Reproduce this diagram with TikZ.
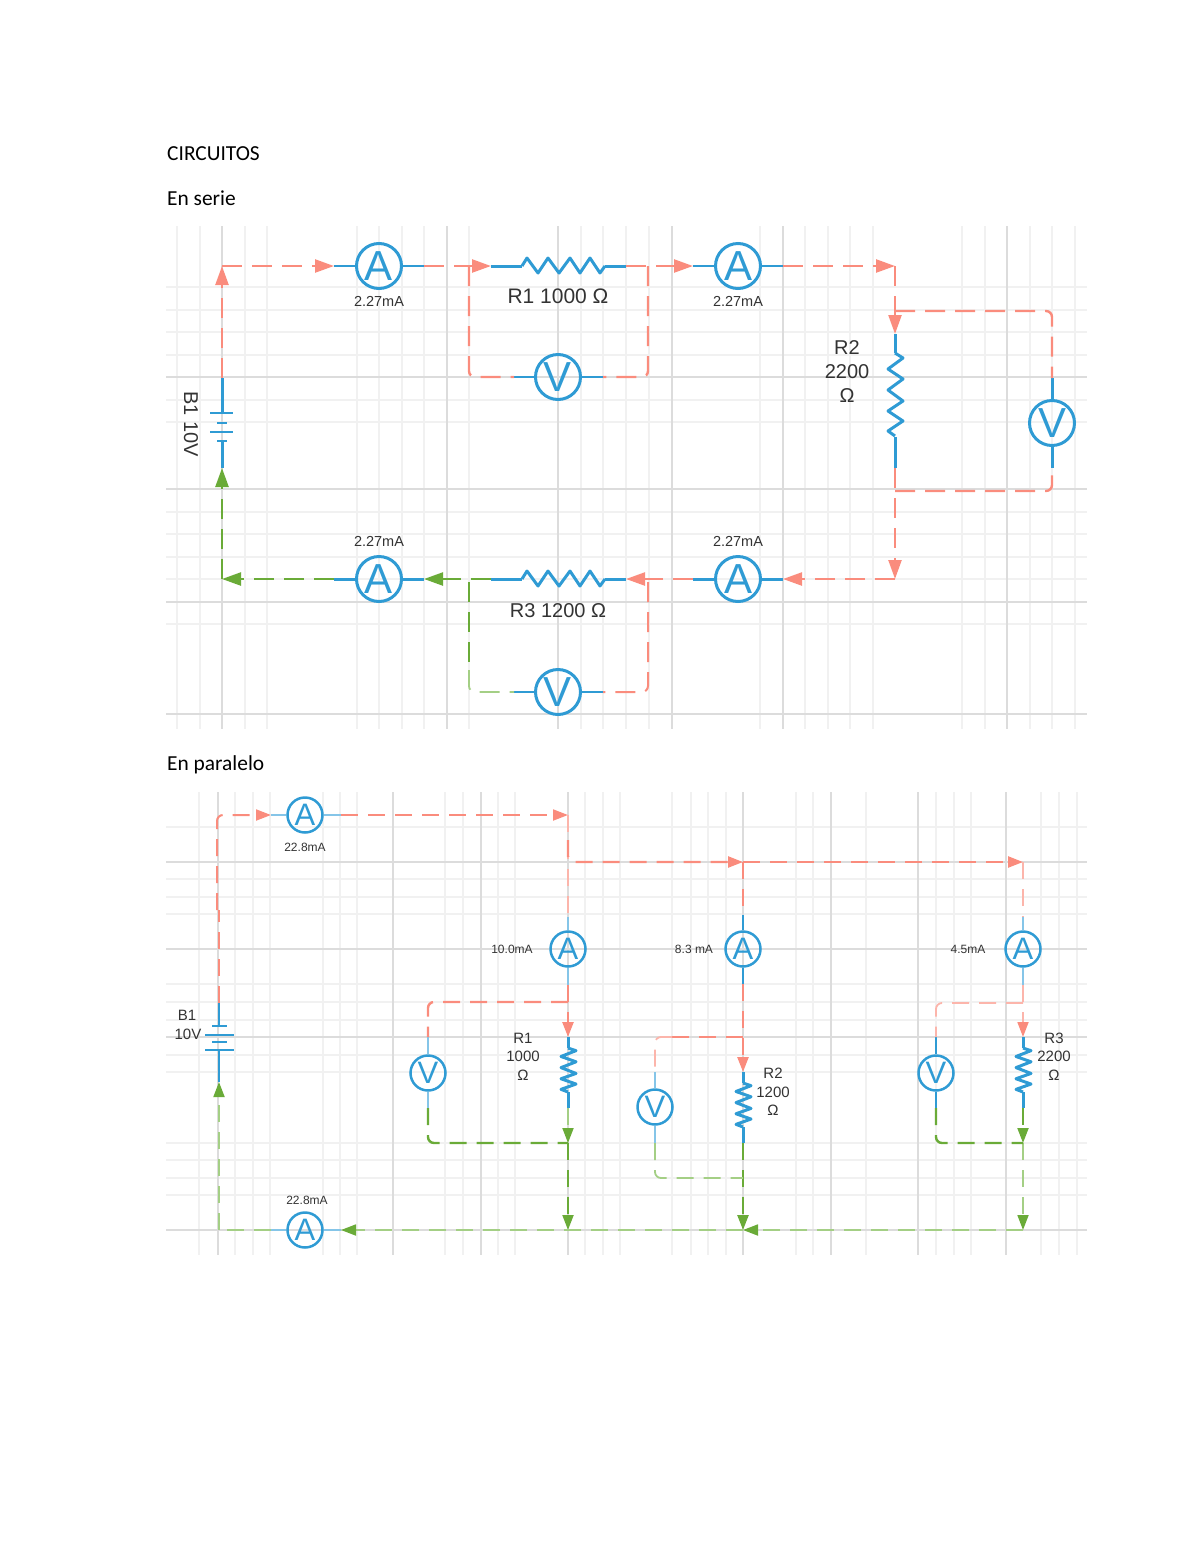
\documentclass[tikz,border=0pt]{standalone}
\usepackage{fontspec}
\setmainfont{Liberation Sans}
\newfontfamily\bodyfont{Carlito}
\usetikzlibrary{arrows.meta}

\definecolor{ebl}{HTML}{2F9BD4}
\definecolor{eblt}{HTML}{85C5E8}
\definecolor{esa}{HTML}{FA8C7D}
\definecolor{esalt}{HTML}{FCB5AB}
\definecolor{egr}{HTML}{6AAB38}
\definecolor{egrlt}{HTML}{A4CF85}
\definecolor{gridlt}{HTML}{F1F1F1}
\definecolor{griddk}{HTML}{DCDCDC}

\def\dashon{20pt}

\tikzset{
  meterbig/.style={circle,draw=ebl,line width=3pt,minimum size=45pt,inner sep=0pt,text=ebl,font=\fontsize{42}{42}\selectfont},
  metersmall/.style={circle,draw=ebl,line width=2.5pt,minimum size=35pt,inner sep=0pt,text=ebl,font=\fontsize{31}{31}\selectfont},
  lead/.style={ebl,line width=3pt},
  leadlt/.style={eblt,line width=2.2pt},
  plate/.style={ebl,line width=2.5pt},
  hot/.style={esa,line width=2.4pt,dash pattern=on \dashon off 10pt,rounded corners=6pt},
  hotlt/.style={esalt,line width=1.8pt,dash pattern=on \dashon off 10pt,rounded corners=6pt},
  cold/.style={egr,line width=2.4pt,dash pattern=on \dashon off 10pt,rounded corners=6pt},
  coldlt/.style={egrlt,line width=1.8pt,dash pattern=on \dashon off 10pt,rounded corners=6pt},
  tiphot/.style={-{Triangle[length=19pt,width=13pt,fill=esa,color=esa]}},
  tipcold/.style={-{Triangle[length=19pt,width=13pt,fill=egr,color=egr]}},
  tiphots/.style={-{Triangle[length=15pt,width=11pt,fill=esa,color=esa]}},
  tipcolds/.style={-{Triangle[length=15pt,width=11pt,fill=egr,color=egr]}},
  zigzag/.pic={\draw[lead,line join=round] (0,0) -- (5,-8) -- (16,7) -- (26,-8) -- (37,7) -- (48,-8) -- (58,7) -- (68,-8) -- (78,7) -- (83,0);},
  body/.style={font=\bodyfont\fontsize{21.4}{21.4}\selectfont,anchor=base west,inner sep=0pt},
  ohms/.style={font=\fontsize{20}{20}\selectfont,text=black!80,inner sep=0pt},
  ohmssmall/.style={font=\fontsize{15}{15}\selectfont,text=black!80,inner sep=0pt},
  amps/.style={font=\fontsize{14.5}{14.5}\selectfont,text=black!80,inner sep=0pt},
  ampssmall/.style={font=\fontsize{12}{12}\selectfont,text=black!80,inner sep=0pt}
}

\begin{document}
\begin{tikzpicture}[x=1pt,y=-1pt]
    \useasboundingbox (0,0) rectangle (1200,1553);

    % Headings
    \node[body] (title) at (167,160) {CIRCUITOS};
    \node[body] (serie) at (167,205) {En serie};
    \node[body] (paralelo) at (167,770) {En paralelo};

    % Grid, series
    \foreach \x in {177,200,245,267,357,379,402,424,469,581,603,626,649,760,805,828,850,873,962,985,1030,1052,1075}
        \draw[gridlt,line width=1.4pt] (\x,226) -- (\x,729);
    \foreach \y in {287,310,332,355,400,422,512,534,557,579,624}
        \draw[gridlt,line width=1.4pt] (166,\y) -- (1087,\y);
    \foreach \x in {222,447,558,672,783,1007}
        \draw[griddk,line width=1.4pt] (\x,226) -- (\x,729);
    \foreach \y in {377,489,602,714}
        \draw[griddk,line width=1.4pt] (166,\y) -- (1087,\y);

    % Grid, parallel
    \foreach \x in {199,235,253,270,323,340,357,445,463,498,515,585,603,620,672,691,708,726,796,813,866,936,954,971,1041,1059,1077}
        \draw[gridlt,line width=1.4pt] (\x,792) -- (\x,1255);
    \foreach \y in {827,879,897,914,984,1002,1020,1055,1072,1143,1160,1178,1195}
        \draw[gridlt,line width=1.4pt] (166,\y) -- (1087,\y);
    \foreach \x in {218,393,481,568,743,831,918,1006}
        \draw[griddk,line width=1.4pt] (\x,792) -- (\x,1255);
    \foreach \y in {862,949,1037,1230}
        \draw[griddk,line width=1.4pt] (166,\y) -- (1087,\y);

    % Series meters
    \node[meterbig] (AmA) at (379,266) {A};
    \node[meterbig] (AmB) at (738,266) {A};
    \node[meterbig] (AmC) at (738,579) {A};
    \node[meterbig] (AmD) at (379,579) {A};
    \node[meterbig] (VmA) at (558,377) {V};
    \node[meterbig] (VmB) at (1052,423) {V};
    \node[meterbig] (VmC) at (558,692) {V};

    % Series corners and lead ends
    \coordinate (BatT) at (222,378);
    \coordinate (BatB) at (222,468);
    \coordinate (TL) at (222,266);
    \coordinate (TR) at (895,266);
    \coordinate (BL) at (222,579);
    \coordinate (BR) at (895,579);
    \coordinate (AmAw) at (334,266);
    \coordinate (AmAe) at (424,266);
    \coordinate (AmBw) at (693,266);
    \coordinate (AmBe) at (783,266);
    \coordinate (AmCw) at (693,579);
    \coordinate (AmCe) at (783,579);
    \coordinate (AmDw) at (334,579);
    \coordinate (AmDe) at (424,579);
    \coordinate (RaW) at (491,266);
    \coordinate (RaE) at (626,266);
    \coordinate (RcW) at (491,579);
    \coordinate (RcE) at (626,579);
    \coordinate (RbT) at (895,334);
    \coordinate (RbB) at (895,468);
    \coordinate (VmAw) at (514,377);
    \coordinate (VmAe) at (603,377);
    \coordinate (VmBt) at (1052,378);
    \coordinate (VmBb) at (1052,468);
    \coordinate (VmCw) at (514,692);
    \coordinate (VmCe) at (603,692);

    % Series blue leads
    \draw[lead,line width=2.2pt] (AmAw) -- (AmA);
    \draw[lead,line width=2.2pt] (AmA) -- (AmAe);
    \draw[lead,line width=2.2pt] (AmBw) -- (AmB);
    \draw[lead,line width=2.2pt] (AmB) -- (AmBe);
    \draw[lead] (AmCw) -- (AmC);
    \draw[lead] (AmC) -- (AmCe);
    \draw[lead] (AmDw) -- (AmD);
    \draw[lead] (AmD) -- (AmDe);
    \draw[lead,line width=2.2pt] (VmAw) -- (VmA);
    \draw[lead,line width=2.2pt] (VmA) -- (VmAe);
    \draw[lead,line width=2.2pt] (VmCw) -- (VmC);
    \draw[lead,line width=2.2pt] (VmC) -- (VmCe);
    \draw[lead] (VmBt) -- (VmB);
    \draw[lead] (VmB) -- (VmBb);

    % Series resistors
    \draw[lead] (RaW) -- (522,266) (605,266) -- (RaE);
    \pic at (522,266) {zigzag};
    \draw[lead] (RcW) -- (522,579) (605,579) -- (RcE);
    \pic at (522,579) {zigzag};
    \draw[lead] (RbT) -- (895,353) (895,437) -- (RbB);
    \pic[rotate=-90] at (895,353) {zigzag};

    % Series battery
    \draw[lead] (BatT) -- (222,413);
    \draw[lead] (222,441) -- (BatB);
    \draw[plate] (210,413) -- (233,413);
    \draw[plate] (217,423) -- (227,423);
    \draw[plate] (210,432) -- (233,432);
    \draw[plate] (217,441) -- (227,441);

    % Series current, salmon side
    \draw[hot,tiphot] (BatT) -- (TL);
    \draw[hot,tiphot] (TL) -- (AmAw);
    \draw[hot,tiphot] (AmAe) -- (RaW);
    \draw[hot,tiphot] (RaE) -- (AmBw);
    \draw[hot,tiphot] (AmBe) -- (TR);
    \draw[hot,tiphot] (TR) -- (RbT);
    \draw[hot,tiphot] (RbB) -- (BR);
    \draw[hot,tiphot] (BR) -- (AmCe);
    \draw[hot,tiphot] (AmCw) -- (RcE);

    % Series current, green side
    \draw[cold,tipcold] (RcW) -- (AmDe);
    \draw[cold,tipcold] (AmDw) -- (BL);
    \draw[cold,tipcold] (BL) -- (BatB);

    % Series voltmeter loops
    \draw[hot] (469,266) -- (469,377) -- (VmAw);
    \draw[hot] (648,266) -- (648,377) -- (VmAe);
    \draw[hot] (895,311) -- (1052,311) -- (VmBt);
    \draw[hot] (895,491) -- (1052,491) -- (VmBb);
    \draw[cold] (469,582) -- (469,668);
    \draw[coldlt] (469,670) -- (469,692) -- (VmCw);
    \draw[hot,line width=2pt] (648,582) -- (648,692) -- (VmCe);

    % Series labels
    \node[amps] (LbA) at (379,301) {2.27mA};
    \node[amps] (LbB) at (738,301) {2.27mA};
    \node[amps] (LbC) at (738,541) {2.27mA};
    \node[amps] (LbD) at (379,541) {2.27mA};
    \node[ohms,font=\fontsize{21}{21}\selectfont] (LbRa) at (558,296) {R1 1000 Ω};
    \node[ohms] (LbRc) at (558,611) {R3 1200 Ω};
    \node[ohms] (LbRb) at (847,348) {R2};
    \node[ohms] (LbRbb) at (847,372) {2200};
    \node[ohms] (LbRbc) at (847,396) {Ω};
    \node[ohms,rotate=-90] (LbBat) at (191,424) {B1 10V};

    % Parallel meters
    \node[metersmall] (PaA) at (305,815) {A};
    \node[metersmall] (PaB) at (305,1230) {A};
    \node[metersmall] (PaC) at (568,949) {A};
    \node[metersmall] (PaD) at (743,949) {A};
    \node[metersmall] (PaE) at (1023,949) {A};
    \node[metersmall] (PvC) at (428,1073) {V};
    \node[metersmall] (PvD) at (655,1107) {V};
    \node[metersmall] (PvE) at (936,1073) {V};

    % Parallel corners and lead ends
    \coordinate (PbatT) at (219,1003);
    \coordinate (PbatB) at (219,1082);
    \coordinate (PTL) at (217,815);
    \coordinate (PBL) at (219,1230);
    \coordinate (PaAw) at (271,815);
    \coordinate (PaAe) at (341,815);
    \coordinate (PaBw) at (271,1230);
    \coordinate (PaBe) at (341,1230);
    \coordinate (PnC) at (568,815);
    \coordinate (PnD) at (743,862);
    \coordinate (PnE) at (1023,862);
    \coordinate (PaCt) at (568,917);
    \coordinate (PaCb) at (568,985);
    \coordinate (PaDt) at (743,915);
    \coordinate (PaDb) at (743,984);
    \coordinate (PaEt) at (1023,917);
    \coordinate (PaEb) at (1023,985);
    \coordinate (PrCt) at (568,1037);
    \coordinate (PrCb) at (568,1108);
    \coordinate (PrDt) at (743,1072);
    \coordinate (PrDb) at (743,1143);
    \coordinate (PrEt) at (1023,1037);
    \coordinate (PrEb) at (1023,1108);
    \coordinate (PgC) at (568,1143);
    \coordinate (PgE) at (1023,1143);
    \coordinate (PeC) at (568,1230);
    \coordinate (PeD) at (743,1230);
    \coordinate (PeE) at (1023,1230);
    \coordinate (PvCt) at (428,1037);
    \coordinate (PvCb) at (428,1108);
    \coordinate (PvDt) at (655,1072);
    \coordinate (PvDb) at (655,1143);
    \coordinate (PvEt) at (936,1037);
    \coordinate (PvEb) at (936,1108);

    % Parallel blue leads
    \draw[leadlt] (PaAw) -- (PaA);
    \draw[leadlt] (PaA) -- (PaAe);
    \draw[leadlt] (PaBw) -- (PaB);
    \draw[leadlt] (PaB) -- (PaBe);
    \draw[leadlt] (PaCt) -- (PaC);
    \draw[leadlt] (PaC) -- (PaCb);
    \draw[lead,line width=2.5pt] (PaDt) -- (PaD);
    \draw[lead,line width=2.5pt] (PaD) -- (PaDb);
    \draw[leadlt] (PaEt) -- (PaE);
    \draw[leadlt] (PaE) -- (PaEb);
    \draw[leadlt] (PvCt) -- (PvC);
    \draw[leadlt] (PvC) -- (PvCb);
    \draw[leadlt] (PvDt) -- (PvD);
    \draw[leadlt] (PvD) -- (PvDb);
    \draw[lead,line width=2.5pt] (PvEt) -- (PvE);
    \draw[lead,line width=2.5pt] (PvE) -- (PvEb);

    % Parallel resistors
    \draw[lead] (PrCt) -- (568,1048) (568,1092) -- (PrCb);
    \pic[rotate=-90,xscale=.53] at (568,1048) {zigzag};
    \draw[lead] (PrDt) -- (743,1083) (743,1127) -- (PrDb);
    \pic[rotate=-90,xscale=.53] at (743,1083) {zigzag};
    \draw[lead] (PrEt) -- (1023,1048) (1023,1092) -- (PrEb);
    \pic[rotate=-90,xscale=.53] at (1023,1048) {zigzag};

    % Parallel battery
    \draw[lead,line width=2.5pt] (PbatT) -- (219,1026);
    \draw[lead,line width=2.5pt] (219,1050) -- (PbatB);
    \draw[plate] (212,1026) -- (227,1026);
    \draw[plate] (205,1035) -- (234,1035);
    \draw[plate] (212,1042) -- (227,1042);
    \draw[plate] (205,1050) -- (234,1050);

    \begin{scope}
    \def\dashon{17pt}
    % Parallel current, salmon side
    \draw[hot,line width=2pt] (PbatT) -- (219,910);
    \draw[hot,line width=2pt,tiphots] (217,910) -- (PTL) -- (PaAw);
    \draw[hot,line width=2pt,tiphots] (PaAe) -- (PnC);
    \draw[hotlt] (PnC) -- (PaCt);
    \draw[hot,tiphots] (568,840) -- (568,862) -- (PnD);
    \draw[hot,tiphots] (PnD) -- (PnE);
    \draw[hot] (PnD) -- (PaDt);
    \draw[hotlt] (PnE) -- (PaEt);
    \draw[hot,tiphots] (PaCb) -- (PrCt);
    \draw[hot,tiphots] (PaDb) -- (PrDt);
    \draw[hotlt,tiphots] (PaEb) -- (PrEt);

    % Parallel current, green side
    \draw[coldlt,tipcolds] (PrCb) -- (PgC);
    \draw[cold,line width=2pt,tipcolds] (PgC) -- (PeC);
    \draw[cold,tipcolds] (PrDb) -- (PeD);
    \draw[cold,line width=2pt,tipcolds] (PrEb) -- (PgE);
    \draw[coldlt,tipcolds] (PgE) -- (PeE);
    \draw[coldlt,tipcolds] (PeE) -- (PeD);
    \draw[coldlt,tipcolds] (PeD) -- (PaBe);
    \draw[coldlt] (PaBw) -- (PBL);
    \draw[coldlt,tipcolds] (PBL) -- (PbatB);

    % Parallel voltmeter loops
    \draw[hot] (568,1002) -- (428,1002) -- (PvCt);
    \draw[cold] (PvCb) -- (428,1143) -- (PgC);
    \draw[hot] (743,1037) -- (672,1037);
    \draw[hotlt] (672,1037) -- (655,1037) -- (PvDt);
    \draw[coldlt] (PvDb) -- (655,1178) -- (743,1178);
    \draw[hotlt] (1023,1003) -- (936,1003) -- (PvEt);
    \draw[cold] (PvEb) -- (936,1143) -- (PgE);
    \end{scope}

    % Parallel labels
    \node[ampssmall] (LpA) at (305,847) {22.8mA};
    \node[ampssmall] (LpB) at (307,1200) {22.8mA};
    \node[ampssmall] (LpC) at (512,949) {10.0mA};
    \node[ampssmall] (LpD) at (694,949) {8.3 mA};
    \node[ampssmall] (LpE) at (968,949) {4.5mA};
    \node[ohmssmall] (LpBa) at (187,1015) {B1};
    \node[ohmssmall] (LpBb) at (188,1034) {10V};
    \node[ohmssmall] (LpRa) at (523,1038) {R1};
    \node[ohmssmall] (LpRb) at (523,1056) {1000};
    \node[ohmssmall] (LpRc) at (523,1075) {Ω};
    \node[ohmssmall] (LpRd) at (773,1073) {R2};
    \node[ohmssmall] (LpRe) at (773,1092) {1200};
    \node[ohmssmall] (LpRf) at (773,1110) {Ω};
    \node[ohmssmall] (LpRg) at (1054,1038) {R3};
    \node[ohmssmall] (LpRh) at (1054,1056) {2200};
    \node[ohmssmall] (LpRi) at (1054,1075) {Ω};

\end{tikzpicture}
\end{document}
